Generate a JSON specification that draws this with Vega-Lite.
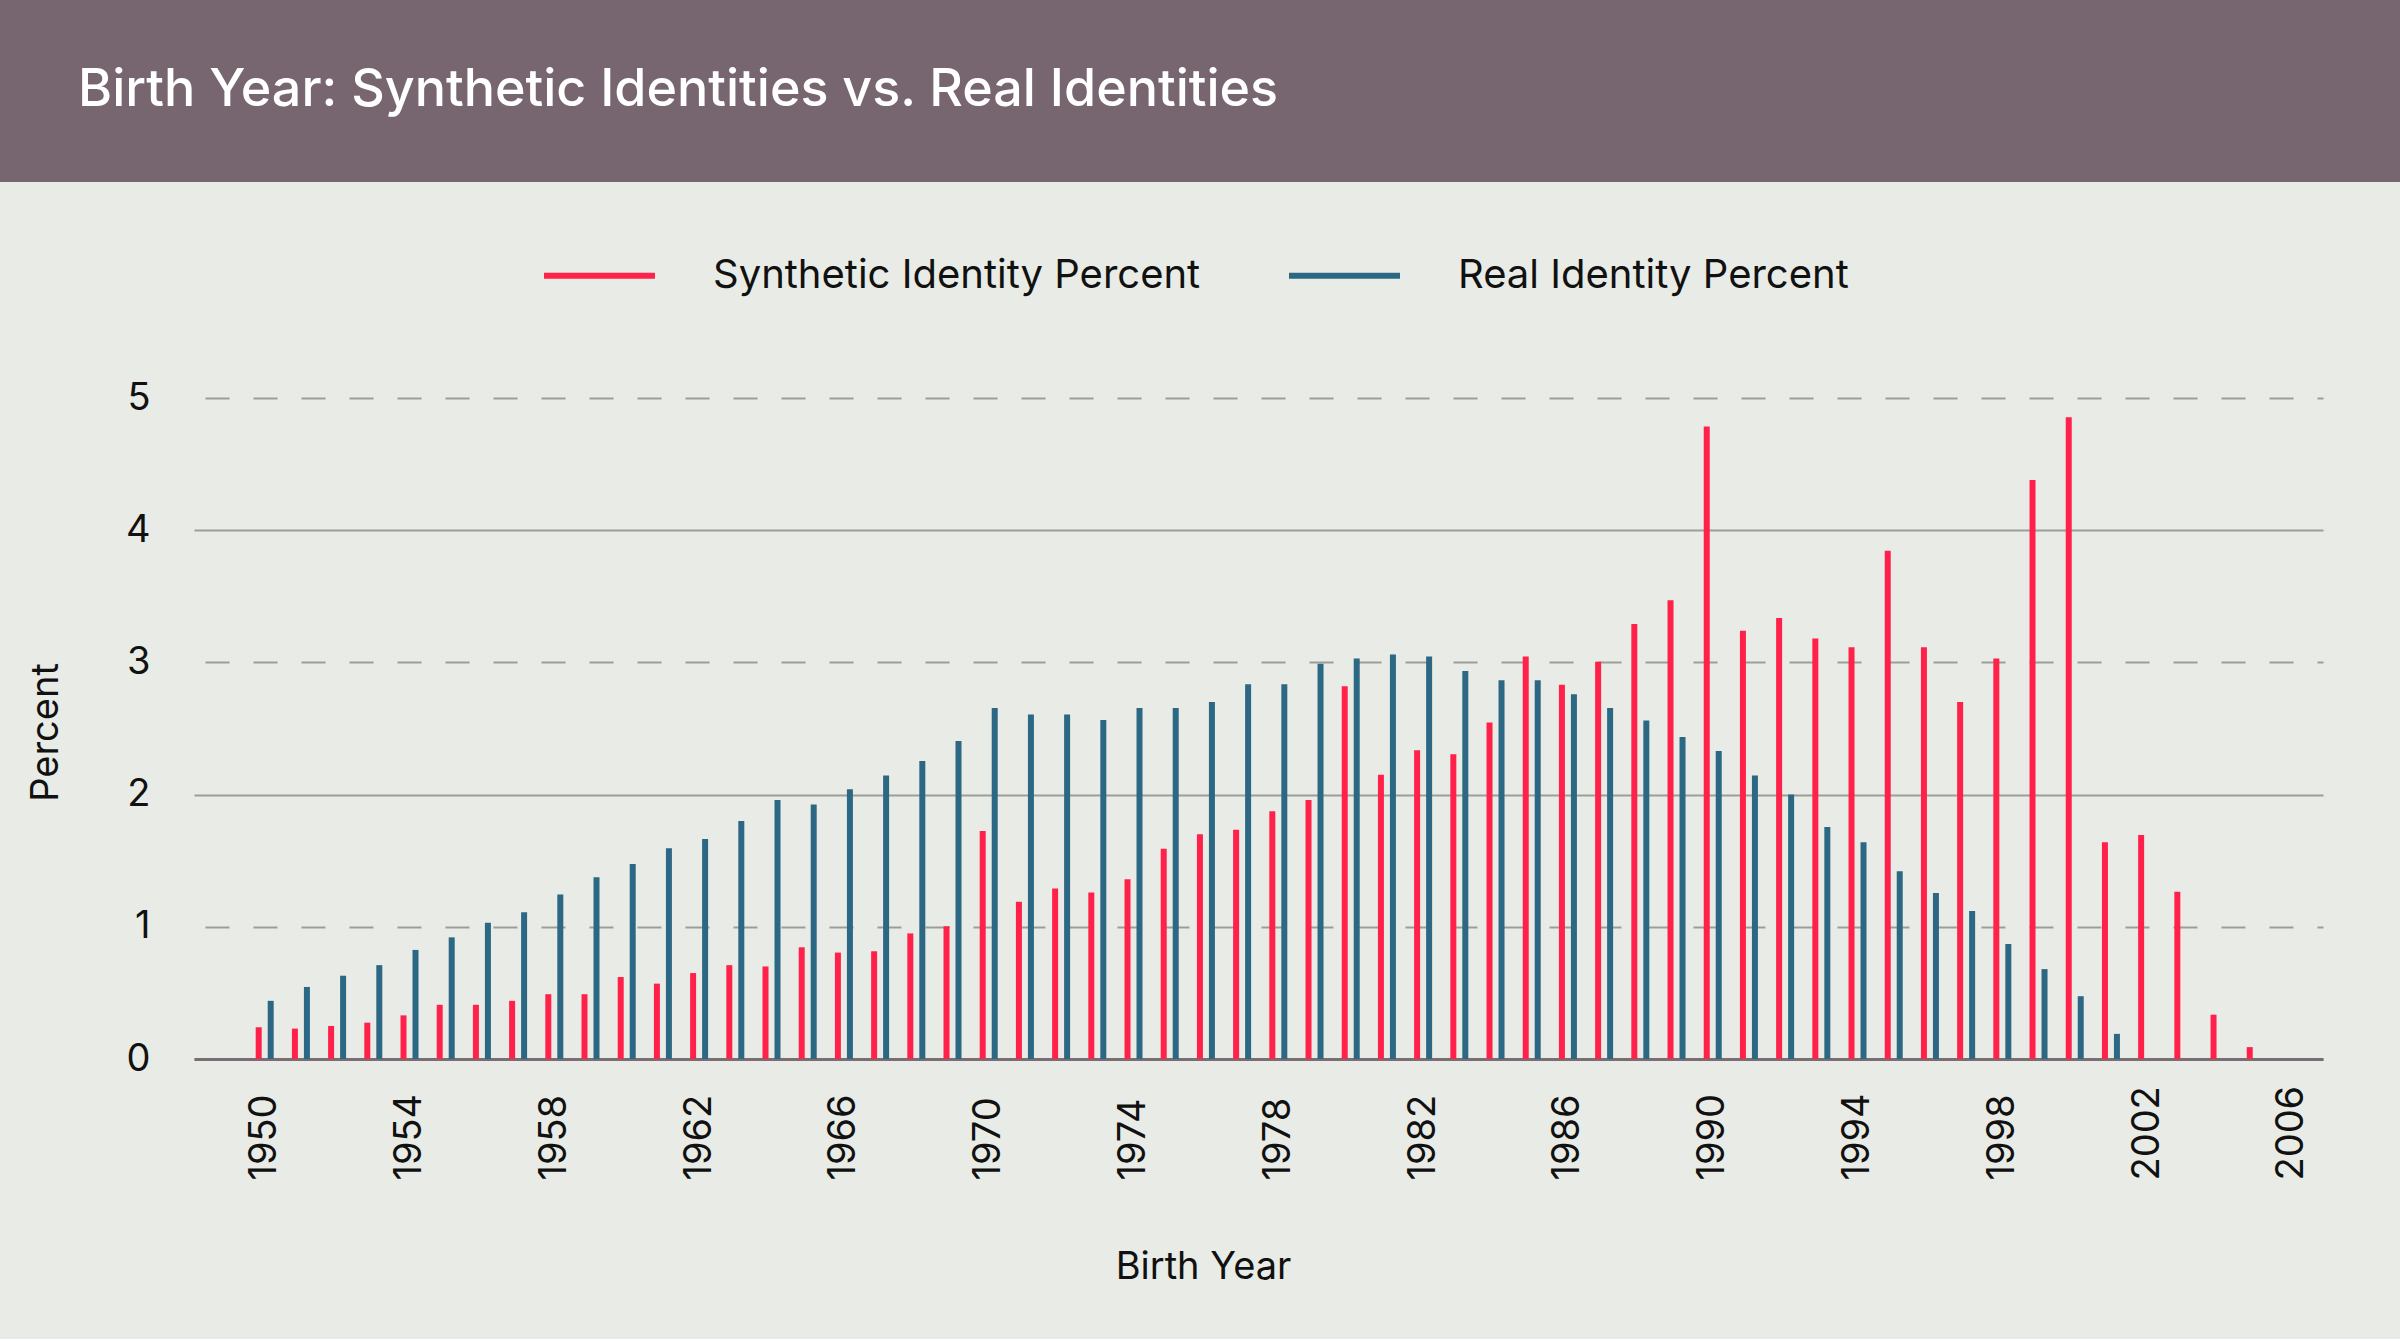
{
  "$schema": "https://vega.github.io/schema/vega-lite/v6.json",
  "background": "#E9ECE6",
  "padding": 0,
  "autosize": {"type": "pad"},
  "columns": 1,
  "align": "none",
  "spacing": 35,
  "resolve": {
    "legend": {"color": "independent", "stroke": "independent"},
    "scale": {"color": "independent", "stroke": "independent"}
  },
  "config": {
    "font": "Inter",
    "view": {"stroke": null}
  },
  "concat": [
    {
      "width": 2400,
      "height": 182,
      "view": {"fill": "#776670", "stroke": null},
      "title": {
        "text": "Birth Year: Synthetic Identities vs. Real Identities",
        "orient": "top",
        "anchor": "start",
        "frame": "group",
        "offset": -158,
        "dx": 78,
        "baseline": "alphabetic",
        "fontSize": 52,
        "font": "Inter",
        "fontWeight": 500,
        "color": "#FFFFFF"
      },
      "data": {"values": [{"t": ""}]},
      "mark": {"type": "text", "opacity": 0},
      "encoding": {"text": {"field": "t"}}
    },
    {
      "spacing": 0,
      "resolve": {
        "legend": {"color": "independent", "stroke": "independent"},
        "scale": {"color": "independent", "stroke": "independent"}
      },
      "hconcat": [
        {
          "width": 1,
          "height": 1,
          "data": {"values": [{"t": ""}]},
          "mark": {"type": "text", "opacity": 0},
          "encoding": {"text": {"field": "t"}}
        },
        {
          "width": 2129,
          "height": 661,
          "data": {
            "values": [
              {"year": 1950, "series": "Synthetic Identity Percent", "value": 0.24},
              {"year": 1951, "series": "Synthetic Identity Percent", "value": 0.23},
              {"year": 1952, "series": "Synthetic Identity Percent", "value": 0.25},
              {"year": 1953, "series": "Synthetic Identity Percent", "value": 0.275},
              {"year": 1954, "series": "Synthetic Identity Percent", "value": 0.33},
              {"year": 1955, "series": "Synthetic Identity Percent", "value": 0.41},
              {"year": 1956, "series": "Synthetic Identity Percent", "value": 0.41},
              {"year": 1957, "series": "Synthetic Identity Percent", "value": 0.44},
              {"year": 1958, "series": "Synthetic Identity Percent", "value": 0.49},
              {"year": 1959, "series": "Synthetic Identity Percent", "value": 0.49},
              {"year": 1960, "series": "Synthetic Identity Percent", "value": 0.62},
              {"year": 1961, "series": "Synthetic Identity Percent", "value": 0.57},
              {"year": 1962, "series": "Synthetic Identity Percent", "value": 0.65},
              {"year": 1963, "series": "Synthetic Identity Percent", "value": 0.71},
              {"year": 1964, "series": "Synthetic Identity Percent", "value": 0.70},
              {"year": 1965, "series": "Synthetic Identity Percent", "value": 0.845},
              {"year": 1966, "series": "Synthetic Identity Percent", "value": 0.805},
              {"year": 1967, "series": "Synthetic Identity Percent", "value": 0.815},
              {"year": 1968, "series": "Synthetic Identity Percent", "value": 0.95},
              {"year": 1969, "series": "Synthetic Identity Percent", "value": 1.005},
              {"year": 1970, "series": "Synthetic Identity Percent", "value": 1.725},
              {"year": 1971, "series": "Synthetic Identity Percent", "value": 1.19},
              {"year": 1972, "series": "Synthetic Identity Percent", "value": 1.29},
              {"year": 1973, "series": "Synthetic Identity Percent", "value": 1.26},
              {"year": 1974, "series": "Synthetic Identity Percent", "value": 1.36},
              {"year": 1975, "series": "Synthetic Identity Percent", "value": 1.59},
              {"year": 1976, "series": "Synthetic Identity Percent", "value": 1.70},
              {"year": 1977, "series": "Synthetic Identity Percent", "value": 1.735},
              {"year": 1978, "series": "Synthetic Identity Percent", "value": 1.875},
              {"year": 1979, "series": "Synthetic Identity Percent", "value": 1.96},
              {"year": 1980, "series": "Synthetic Identity Percent", "value": 2.82},
              {"year": 1981, "series": "Synthetic Identity Percent", "value": 2.15},
              {"year": 1982, "series": "Synthetic Identity Percent", "value": 2.335},
              {"year": 1983, "series": "Synthetic Identity Percent", "value": 2.305},
              {"year": 1984, "series": "Synthetic Identity Percent", "value": 2.545},
              {"year": 1985, "series": "Synthetic Identity Percent", "value": 3.045},
              {"year": 1986, "series": "Synthetic Identity Percent", "value": 2.83},
              {"year": 1987, "series": "Synthetic Identity Percent", "value": 3.005},
              {"year": 1988, "series": "Synthetic Identity Percent", "value": 3.29},
              {"year": 1989, "series": "Synthetic Identity Percent", "value": 3.47},
              {"year": 1990, "series": "Synthetic Identity Percent", "value": 4.785},
              {"year": 1991, "series": "Synthetic Identity Percent", "value": 3.24},
              {"year": 1992, "series": "Synthetic Identity Percent", "value": 3.335},
              {"year": 1993, "series": "Synthetic Identity Percent", "value": 3.18},
              {"year": 1994, "series": "Synthetic Identity Percent", "value": 3.115},
              {"year": 1995, "series": "Synthetic Identity Percent", "value": 3.845},
              {"year": 1996, "series": "Synthetic Identity Percent", "value": 3.115},
              {"year": 1997, "series": "Synthetic Identity Percent", "value": 2.70},
              {"year": 1998, "series": "Synthetic Identity Percent", "value": 3.03},
              {"year": 1999, "series": "Synthetic Identity Percent", "value": 4.38},
              {"year": 2000, "series": "Synthetic Identity Percent", "value": 4.855},
              {"year": 2001, "series": "Synthetic Identity Percent", "value": 1.64},
              {"year": 2002, "series": "Synthetic Identity Percent", "value": 1.695},
              {"year": 2003, "series": "Synthetic Identity Percent", "value": 1.265},
              {"year": 2004, "series": "Synthetic Identity Percent", "value": 0.335},
              {"year": 2005, "series": "Synthetic Identity Percent", "value": 0.09},
              {"year": 1950, "series": "Real Identity Percent", "value": 0.44},
              {"year": 1951, "series": "Real Identity Percent", "value": 0.545},
              {"year": 1952, "series": "Real Identity Percent", "value": 0.63},
              {"year": 1953, "series": "Real Identity Percent", "value": 0.71},
              {"year": 1954, "series": "Real Identity Percent", "value": 0.825},
              {"year": 1955, "series": "Real Identity Percent", "value": 0.92},
              {"year": 1956, "series": "Real Identity Percent", "value": 1.03},
              {"year": 1957, "series": "Real Identity Percent", "value": 1.11},
              {"year": 1958, "series": "Real Identity Percent", "value": 1.245},
              {"year": 1959, "series": "Real Identity Percent", "value": 1.375},
              {"year": 1960, "series": "Real Identity Percent", "value": 1.475},
              {"year": 1961, "series": "Real Identity Percent", "value": 1.595},
              {"year": 1962, "series": "Real Identity Percent", "value": 1.665},
              {"year": 1963, "series": "Real Identity Percent", "value": 1.80},
              {"year": 1964, "series": "Real Identity Percent", "value": 1.96},
              {"year": 1965, "series": "Real Identity Percent", "value": 1.925},
              {"year": 1966, "series": "Real Identity Percent", "value": 2.04},
              {"year": 1967, "series": "Real Identity Percent", "value": 2.145},
              {"year": 1968, "series": "Real Identity Percent", "value": 2.255},
              {"year": 1969, "series": "Real Identity Percent", "value": 2.405},
              {"year": 1970, "series": "Real Identity Percent", "value": 2.655},
              {"year": 1971, "series": "Real Identity Percent", "value": 2.605},
              {"year": 1972, "series": "Real Identity Percent", "value": 2.605},
              {"year": 1973, "series": "Real Identity Percent", "value": 2.565},
              {"year": 1974, "series": "Real Identity Percent", "value": 2.655},
              {"year": 1975, "series": "Real Identity Percent", "value": 2.655},
              {"year": 1976, "series": "Real Identity Percent", "value": 2.70},
              {"year": 1977, "series": "Real Identity Percent", "value": 2.835},
              {"year": 1978, "series": "Real Identity Percent", "value": 2.835},
              {"year": 1979, "series": "Real Identity Percent", "value": 2.99},
              {"year": 1980, "series": "Real Identity Percent", "value": 3.03},
              {"year": 1981, "series": "Real Identity Percent", "value": 3.06},
              {"year": 1982, "series": "Real Identity Percent", "value": 3.045},
              {"year": 1983, "series": "Real Identity Percent", "value": 2.935},
              {"year": 1984, "series": "Real Identity Percent", "value": 2.865},
              {"year": 1985, "series": "Real Identity Percent", "value": 2.865},
              {"year": 1986, "series": "Real Identity Percent", "value": 2.76},
              {"year": 1987, "series": "Real Identity Percent", "value": 2.655},
              {"year": 1988, "series": "Real Identity Percent", "value": 2.56},
              {"year": 1989, "series": "Real Identity Percent", "value": 2.435},
              {"year": 1990, "series": "Real Identity Percent", "value": 2.33},
              {"year": 1991, "series": "Real Identity Percent", "value": 2.145},
              {"year": 1992, "series": "Real Identity Percent", "value": 2.0},
              {"year": 1993, "series": "Real Identity Percent", "value": 1.755},
              {"year": 1994, "series": "Real Identity Percent", "value": 1.64},
              {"year": 1995, "series": "Real Identity Percent", "value": 1.42},
              {"year": 1996, "series": "Real Identity Percent", "value": 1.255},
              {"year": 1997, "series": "Real Identity Percent", "value": 1.12},
              {"year": 1998, "series": "Real Identity Percent", "value": 0.87},
              {"year": 1999, "series": "Real Identity Percent", "value": 0.68},
              {"year": 2000, "series": "Real Identity Percent", "value": 0.475},
              {"year": 2001, "series": "Real Identity Percent", "value": 0.19}
            ]
          },
          "encoding": {
            "x": {
              "field": "year",
              "type": "quantitative",
              "scale": {"domain": [1948.185, 2006.72], "nice": false, "zero": false},
              "axis": {
                "values": [1950, 1954, 1958, 1962, 1966, 1970, 1974, 1978, 1982, 1986, 1990, 1994, 1998, 2002, 2006],
                "format": "d",
                "labelAngle": 270,
                "labelAlign": "left",
                "labelBaseline": "middle",
                "labelPadding": 121,
                "labelFontSize": 38,
                "labelColor": "#111111",
                "labelFlush": false,
                "labelOverlap": false,
                "labelBound": false,
                "ticks": false,
                "tickSize": 0,
                "grid": false,
                "domain": true,
                "domainColor": "#7A6E74",
                "domainWidth": 3,
                "title": "Birth Year",
                "titleFontSize": 38,
                "titleFontWeight": 400,
                "titleColor": "#111111",
                "titleX": 1009,
                "titleY": 219,
                "titleAlign": "center",
                "titleBaseline": "alphabetic",
                "titlePadding": 0,
                "minExtent": 280
              }
            },
            "y": {
              "field": "value",
              "type": "quantitative",
              "stack": null,
              "scale": {"domain": [0, 5], "nice": false},
              "axis": {
                "values": [0, 1, 2, 3, 4, 5],
                "labelFontSize": 38,
                "labelColor": "#111111",
                "labelPadding": 44,
                "labelAlign": "right",
                "labelBaseline": "middle",
                "ticks": false,
                "tickSize": 0,
                "domain": false,
                "grid": true,
                "gridColor": "#9B9D99",
                "gridWidth": 2,
                "gridDash": {"condition": {"test": "datum.value % 2 === 1", "value": [24, 24]}, "value": []},
                "gridDashOffset": 37,
                "title": "Percent",
                "titleFontSize": 38,
                "titleFontWeight": 400,
                "titleColor": "#111111",
                "titleAngle": 270,
                "titleX": -137,
                "titleY": 334,
                "titleAlign": "center",
                "titleBaseline": "alphabetic",
                "titlePadding": 0,
                "minExtent": 193
              }
            },
            "color": {
              "field": "series",
              "type": "nominal",
              "scale": {
                "domain": ["Synthetic Identity Percent", "Real Identity Percent"],
                "range": ["#FF2149", "#2C6784"]
              },
              "legend": {
                "orient": "none",
                "legendX": 347,
                "legendY": -181,
                "direction": "horizontal",
                "title": null,
                "padding": 0,
                "symbolType": "stroke",
                "symbolSize": 12321,
                "symbolStrokeWidth": 6,
                "labelFontSize": 40,
                "labelColor": "#111111",
                "labelLimit": 0,
                "labelOffset": 55,
                "columnPadding": 76
              }
            },
            "stroke": {
              "field": "series",
              "type": "nominal",
              "scale": {
                "domain": ["Synthetic Identity Percent", "Real Identity Percent"],
                "range": ["#FF2149", "#2C6784"]
              },
              "legend": {
                "orient": "none",
                "legendX": 347,
                "legendY": -181,
                "direction": "horizontal",
                "title": null,
                "padding": 0,
                "symbolType": "stroke",
                "symbolSize": 12321,
                "symbolStrokeWidth": 6,
                "labelFontSize": 40,
                "labelColor": "#111111",
                "labelLimit": 0,
                "labelOffset": 55,
                "columnPadding": 76
              }
            }
          },
          "layer": [
            {
              "transform": [{"filter": "datum.series === 'Synthetic Identity Percent'"}],
              "mark": {"type": "bar", "orient": "vertical", "size": 6, "xOffset": -6, "strokeWidth": 0}
            },
            {
              "transform": [{"filter": "datum.series === 'Real Identity Percent'"}],
              "mark": {"type": "bar", "orient": "vertical", "size": 6, "xOffset": 6, "strokeWidth": 0}
            }
          ]
        }
      ]
    }
  ]
}
